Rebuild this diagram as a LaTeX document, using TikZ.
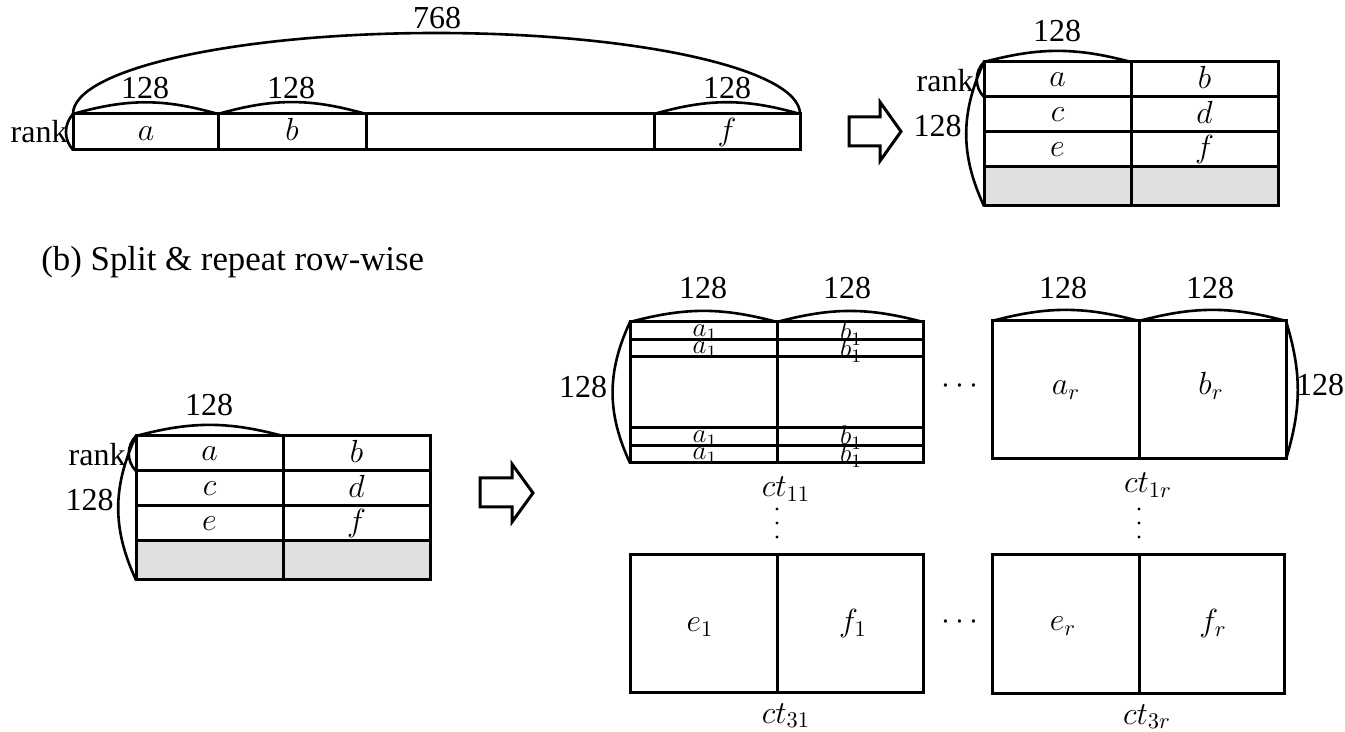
\RequirePackage{fix-cm}
\documentclass[tikz,border=0pt]{standalone}
\usepackage[no-math]{fontspec}
\setmainfont{Liberation Serif}
\definecolor{cellgray}{RGB}{224,224,224}
\tikzset{
  box/.style={line width=1.5pt},
  brace/.style={line width=1.3pt},
  lbl/.style={inner sep=0pt, font=\fontsize{16}{19}\selectfont},
  mlbl/.style={inner sep=0pt, anchor=base, font=\fontsize{16}{19}\selectfont},
  slbl/.style={inner sep=0pt, anchor=base, font=\fontsize{13.5}{16}\selectfont},
  ttl/.style={inner sep=0pt, anchor=west, font=\fontsize{17.4}{20}\selectfont},
  blockarrow/.style={line width=1.5pt, fill=white, line join=miter},
  dotmark/.style={fill=black}
}
\newcommand\mytab[1]{%
  \fill[cellgray] (0,105) rectangle (294,144);
  \draw[box] (0,0) rectangle (294,144);
  \draw[box] (0,35) -- (294,35) (0,70) -- (294,70) (0,105) -- (294,105) (147,0) -- (147,144);
  \coordinate (#1tl) at (0,0);
  \coordinate (#1ml) at (0,35);
  \coordinate (#1bl) at (0,144);
  \coordinate (#1tm) at (147,0);
  \draw[brace] (#1tl) to[bend left=15] (#1tm);
  \draw[brace] (#1tl) to[bend right=45] (#1ml);
  \draw[brace] (#1tl) to[bend right=25] (#1bl);
  \node[mlbl] (#1a) at (73.5,25) {$a$};
  \node[mlbl] (#1b) at (220.5,27) {$b$};
  \node[mlbl] (#1c) at (73.5,60) {$c$};
  \node[mlbl] (#1d) at (220.5,62) {$d$};
  \node[mlbl] (#1e) at (73.5,95) {$e$};
  \node[mlbl] (#1f) at (220.5,96) {$f$};
  \node[lbl] (#1w) at (73,-31) {128};
  \node[lbl,anchor=east] (#1rank) at (-10,18.5) {rank};
  \node[lbl] (#1h) at (-46.5,64.5) {128};
}
\begin{document}
\begin{tikzpicture}[x=0.5pt,y=-0.5pt]
\useasboundingbox (0,0) rectangle (1345,732);

% ---------- top bar ----------
\draw[box] (73,114) rectangle (800,150);
\draw[box] (218,114) -- (218,150) (366,114) -- (366,150) (654,114) -- (654,150);
\coordinate (t0) at (73,114);
\coordinate (t1) at (218,114);
\coordinate (t2) at (366,114);
\coordinate (t3) at (654,114);
\coordinate (t4) at (800,114);
\coordinate (tb) at (73,150);
\draw[brace] (t0) to[bend left=16] (t1);
\draw[brace] (t1) to[bend left=16] (t2);
\draw[brace] (t3) to[bend left=16] (t4);
\draw[brace] (t0) arc[start angle=180, end angle=360, x radius=363.5, y radius=81];
\draw[brace] (t0) to[bend right=42] (tb);
\node[lbl] (n768) at (437,18) {768};
\node[lbl] (w1) at (145,88) {128};
\node[lbl] (w2) at (291,88) {128};
\node[lbl] (w3) at (727,88) {128};
\node[lbl,anchor=east] (rank1) at (68,132) {rank};
\node[mlbl] (ta) at (146,141) {$a$};
\node[mlbl] (tbb) at (292,141) {$b$};
\node[mlbl] (tf) at (727,141) {$f$};

% ---------- arrow 1 ----------
\draw[blockarrow] (849,117) -- (880,117) -- (880,102) -- (901,131.5) -- (880,161) -- (880,146) -- (849,146) -- cycle;

% ---------- top-right table ----------
\begin{scope}[shift={(984,62)}]
  \mytab{R}
\end{scope}

% ---------- title ----------
\node[ttl] (title) at (41,262) {(b) Split \& repeat row-wise};

% ---------- left table (b) ----------
\begin{scope}[shift={(136,436)}]
  \mytab{L}
\end{scope}

% ---------- arrow 2 ----------
\draw[blockarrow] (480,478) -- (512,478) -- (512,464) -- (533,493) -- (512,522) -- (512,507) -- (480,507) -- cycle;

% ---------- ct11 ----------
\draw[box] (630,322) rectangle (923,463);
\draw[box] (630,340) -- (923,340) (630,357) -- (923,357) (630,428) -- (923,428) (630,446) -- (923,446) (777,322) -- (777,463);
\coordinate (c0) at (630,322);
\coordinate (c1) at (777,322);
\coordinate (c2) at (923,322);
\coordinate (cb) at (630,463);
\draw[brace] (c0) to[bend left=15] (c1);
\draw[brace] (c1) to[bend left=15] (c2);
\draw[brace] (c0) to[bend right=25] (cb);
\node[lbl] (cw1) at (703,288) {128};
\node[lbl] (cw2) at (847,288) {128};
\node[lbl] (ch) at (583,387) {128};
\node[slbl] (a11) at (705,337) {$a_1$};
\node[slbl] (a12) at (705,354) {$a_1$};
\node[slbl] (a14) at (705,443) {$a_1$};
\node[slbl] (a15) at (705,460) {$a_1$};
\node[slbl] (b11) at (851,341) {$b_1$};
\node[slbl] (b12) at (851,358) {$b_1$};
\node[slbl] (b14) at (851,445) {$b_1$};
\node[slbl] (b15) at (851,463) {$b_1$};
\node[mlbl] (ct11) at (786,497) {$ct_{11}$};

% ---------- ct1r ----------
\draw[box] (992,321) rectangle (1286,459);
\draw[box] (1139,321) -- (1139,459);
\coordinate (d0) at (992,321);
\coordinate (d1) at (1139,321);
\coordinate (d2) at (1286,321);
\coordinate (db) at (1286,459);
\draw[brace] (d0) to[bend left=15] (d1);
\draw[brace] (d1) to[bend left=15] (d2);
\draw[brace] (d2) to[bend left=17] (db);
\node[lbl] (dw1) at (1063,288) {128};
\node[lbl] (dw2) at (1210,288) {128};
\node[lbl] (dh) at (1320,385) {128};
\node[mlbl] (ar) at (1066,395) {$a_r$};
\node[mlbl] (br) at (1211,395) {$b_r$};
\node[mlbl] (ct1r) at (1148,493) {$ct_{1r}$};
\node[mlbl] (hd1) at (960,394) {$\cdots$};

% ---------- vertical dots ----------
\foreach \yy in {509,523,537} {
  \fill[dotmark] (777,\yy) circle[radius=1.6];
  \fill[dotmark] (1139,\yy) circle[radius=1.6];
}

% ---------- ct31 ----------
\draw[box] (630,555) rectangle (923,692);
\draw[box] (777,555) -- (777,692);
\node[mlbl] (e1) at (700,632) {$e_1$};
\node[mlbl] (f1) at (853,632) {$f_1$};
\node[mlbl] (ct31) at (786,723) {$ct_{31}$};

% ---------- ct3r ----------
\draw[box] (992,555) rectangle (1284,693);
\draw[box] (1139,555) -- (1139,693);
\node[mlbl] (er) at (1063,631) {$e_r$};
\node[mlbl] (fr) at (1213,632) {$f_r$};
\node[mlbl] (ct3r) at (1147,724) {$ct_{3r}$};
\node[mlbl] (hd2) at (960,630) {$\cdots$};
\end{tikzpicture}
\end{document}
